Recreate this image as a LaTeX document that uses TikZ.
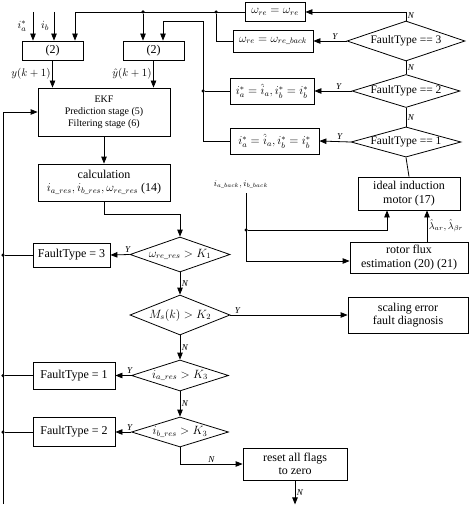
\documentclass[tikz,border=0pt]{standalone}
\usepackage{amsmath}
\usepackage{fontspec}
\setmainfont{Liberation Serif}
\usepackage{tikz}
\usetikzlibrary{arrows.meta, shapes.geometric}
\tikzset{
    procbox/.style={draw, line width=0.8pt, align=center, inner sep=1pt, font=\fontsize{12}{13.5}\selectfont},
    decnode/.style={diamond, draw, line width=0.8pt, inner sep=0pt, align=center, aspect=2.9, font=\fontsize{11.5}{13}\selectfont},
    wire/.style={line width=0.8pt},
    flow/.style={wire, -{Triangle[length=7pt, width=5.5pt]}},
    jdot/.style={circle, fill, inner sep=0pt, minimum size=3.5pt},
    lbl/.style={font=\fontsize{9}{10}\selectfont\itshape, inner sep=1.5pt},
    siglbl/.style={font=\fontsize{11}{12}\selectfont, inner sep=1.5pt}
}

\begin{document}
\begin{tikzpicture}[x=1pt, y=-1pt]
\useasboundingbox (0,0) rectangle (474,505);
% left column
\node[procbox, minimum width=61pt, minimum height=19pt] (obsl) at (52.5,50.5) {(2)};
\node[procbox, minimum width=61pt, minimum height=19pt] (obsr) at (153.5,50.5) {(2)};
\node[procbox, minimum width=132pt, minimum height=48pt, font=\fontsize{10}{12}\selectfont] (ekf) at (104,112) {EKF\\Prediction stage (5)\\Filtering stage (6)};
\node[procbox, minimum width=132pt, minimum height=37pt] (calc) at (104,182.5) {calculation\\$i_{a\_res}, i_{b\_res}, \omega_{re\_res}$ (14)};
\node[decnode, minimum width=100pt, minimum height=35pt] (d1) at (180,254.5) {$\omega_{re\_res} > K_1$};
\node[decnode, minimum width=100pt, minimum height=40pt, aspect=2.5] (d2) at (180,315) {$M_s(k) > K_2$};
\node[decnode, minimum width=97pt, minimum height=31pt, aspect=3.1] (d3) at (180,375.5) {$i_{a\_res} > K_3$};
\node[decnode, minimum width=97pt, minimum height=30pt, aspect=3.2] (d4) at (180,432) {$i_{b\_res} > K_3$};
\node[procbox, minimum width=77pt, minimum height=24pt] (ft3b) at (71.5,255) {FaultType = 3};
\node[procbox, minimum width=82pt, minimum height=27pt] (ft1b) at (74,375.5) {FaultType = 1};
\node[procbox, minimum width=82pt, minimum height=29pt] (ft2b) at (74,432) {FaultType = 2};
\node[procbox, minimum width=104pt, minimum height=32pt] (reset) at (295,464) {reset all flags\\to zero};
% right column
\node[procbox, minimum width=60pt, minimum height=19pt] (wre1) at (275,12) {$\omega_{re} = \omega_{re}$};
\node[procbox, minimum width=80pt, minimum height=22pt] (wre2) at (273,41) {$\omega_{re} = \omega_{re\_back}$};
\node[procbox, minimum width=84pt, minimum height=26pt] (iab2) at (272,91) {$i_a^* = \hat{i}_a, i_b^* = i_b^*$};
\node[procbox, minimum width=89pt, minimum height=26pt] (iab1) at (274.5,141) {$i_a^* = \hat{i}_a, i_b^* = i_b^*$};
\node[decnode, minimum width=118pt, minimum height=40pt] (ft3d) at (406,41) {FaultType == 3};
\node[decnode, minimum width=108pt, minimum height=33pt, aspect=3.3] (ft2d) at (406,91) {FaultType == 2};
\node[decnode, minimum width=110pt, minimum height=30pt, aspect=3.6] (ft1d) at (406,142) {FaultType == 1};
\node[procbox, minimum width=102pt, minimum height=33pt] (motor) at (409,193.5) {ideal induction\\motor (17)};
\node[procbox, minimum width=118pt, minimum height=31pt] (flux) at (409,257.5) {rotor flux\\estimation (20) (21)};
\node[procbox, minimum width=120pt, minimum height=36pt] (scal) at (408,315) {scaling error\\fault diagnosis};

% junctions and free ends
\coordinate (ina) at (33,12);
\coordinate (inb) at (54,12);
\coordinate (tl) at (75,12);
\node[jdot] (ja) at (143,12) {};
\node[jdot] (jb) at (216,12) {};
\coordinate (c1) at (163,21);
\coordinate (c2) at (203,21);
\node[jdot] (jc) at (203,91) {};
\coordinate (fb) at (3,504);
\node[jdot] (jd1) at (3,255) {};
\node[jdot] (jd2) at (3,375.5) {};
\node[jdot] (jd3) at (3,432) {};
\coordinate (bkt) at (246,193);
\node[jdot] (je) at (246,230) {};

% inputs of the observers
\node[siglbl] (lia) at (22,26) {$i_a^*$};
\node[siglbl] (lib) at (45,26) {$i_b$};
\draw[flow] (ina) -- (ina |- obsl.north);
\draw[flow] (inb) -- (inb |- obsl.north);
\draw[flow] (wre1.west) -- (tl) -- (tl |- obsl.north);
\draw[flow] (ja) -- (ja |- obsr.north);
\draw[wire] (jb) |- (wre2.west);
\draw[flow] (iab1.west) -| (c2) -- (c1) -- (c1 |- obsr.north);
\draw[wire] (iab2.west) -- (jc);

% EKF chain
\draw[flow] (obsl.south) -- node[siglbl, left] {$y(k+1)$} (obsl.south |- ekf.north);
\draw[flow] (obsr.south) -- node[siglbl, left] {$\hat{y}(k+1)$} (obsr.south |- ekf.north);
\draw[flow] (ekf.south) -- (calc.north);
\draw[flow] (calc.south) -- ++(0,13) -| (d1.north);
\draw[flow] (fb) |- (ekf.west);

% decisions
\draw[flow] (d1.west) -- node[lbl, above, pos=0.1] {Y} (ft3b.east);
\draw[flow] (d1.south) -- node[lbl, right] {N} (d2.north);
\draw[flow] (d2.east) -- node[lbl, above, pos=0.06] {Y} (scal.west);
\draw[flow] (d2.south) -- node[lbl, right] {N} (d3.north);
\draw[flow] (d3.west) -- node[lbl, above, pos=0.1] {Y} (ft1b.east);
\draw[flow] (d3.south) -- node[lbl, right] {N} (d4.north);
\draw[flow] (d4.west) -- node[lbl, above, pos=0.1] {Y} (ft2b.east);
\draw[flow] (d4.south) |- node[lbl, above, pos=0.75] {N} (reset.west);
\draw[flow] (reset.south) -- node[lbl, right] {N} ++(0,24);
\draw[wire] (ft3b.west) -- (jd1);
\draw[wire] (ft1b.west) -- (jd2);
\draw[wire] (ft2b.west) -- (jd3);

% fault type selection
\draw[wire] (ft1d.south) -- (motor.north);
\draw[wire] (ft1d.north) -- node[lbl, right] {N} (ft2d.south);
\draw[wire] (ft2d.north) -- node[lbl, right] {N} (ft3d.south);
\draw[flow] (ft3d.north) |- node[lbl, right, pos=0.3] {N} (wre1.east);
\draw[flow] (ft3d.west) -- node[lbl, above, pos=0.35] {Y} (wre2.east);
\draw[flow] (ft2d.west) -- node[lbl, above, pos=0.35] {Y} (iab2.east);
\draw[flow] (ft1d.west) -- node[lbl, above, pos=0.35] {Y} (iab1.east);

% back currents and flux
\node[lbl] (bk) at (241,184) {$i_{a\_back}, i_{b\_back}$};
\draw[flow] (bkt) |- ([yshift=-3.5pt]flux.west);
\draw[flow] (je) -| ([xshift=-22pt]motor.south);
\draw[flow] ([xshift=18pt]flux.north) -- node[siglbl, right, font=\fontsize{10}{11}\selectfont] {$\hat{\lambda}_{ar}, \hat{\lambda}_{\beta r}$} ([xshift=18pt]motor.south);
\end{tikzpicture}
\end{document}
